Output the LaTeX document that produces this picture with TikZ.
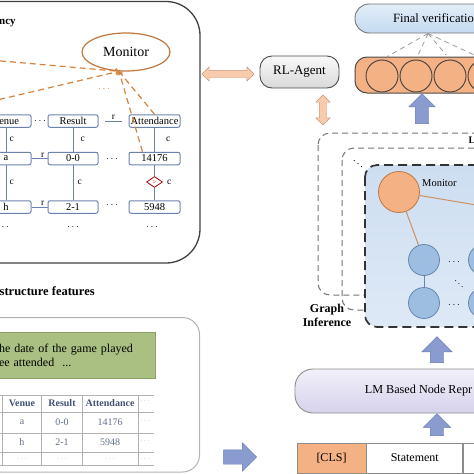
\documentclass[tikz,border=0pt]{standalone}
\usepackage{fontspec}
\setmainfont{Liberation Serif}
\usetikzlibrary{shapes.geometric,shapes.arrows,positioning}
\definecolor{dashorange}{RGB}{214,130,60}
\definecolor{monedge}{RGB}{192,118,60}
\definecolor{gridblue}{RGB}{107,130,172}
\definecolor{peach}{RGB}{244,177,131}
\definecolor{peachlight}{RGB}{248,203,173}
\definecolor{peachedge}{RGB}{200,150,120}
\definecolor{arrowblue}{RGB}{138,155,207}
\definecolor{arrowedge}{RGB}{100,118,175}
\definecolor{skyfill}{RGB}{226,238,249}
\definecolor{skydark}{RGB}{196,218,240}
\definecolor{graphtop}{RGB}{205,222,241}
\definecolor{graphbot}{RGB}{222,233,246}
\definecolor{nodeblue}{RGB}{157,190,224}
\definecolor{nodeedge}{RGB}{100,135,175}
\definecolor{lavtop}{RGB}{242,240,250}
\definecolor{lavbot}{RGB}{214,210,236}
\definecolor{olive}{RGB}{170,192,130}
\definecolor{oliveedge}{RGB}{140,160,100}
\definecolor{headtext}{RGB}{64,80,112}
\definecolor{celltext}{RGB}{95,110,140}

\begin{document}
\begin{tikzpicture}[x=1pt,y=-1pt,
    tbox/.style={draw=gridblue,line width=1pt,rounded corners=2pt,minimum width=50pt,minimum height=12.5pt,inner sep=0pt,font=\fontsize{10.5}{12}\selectfont},
    gline/.style={draw=gridblue,line width=1pt},
    lab/.style={inner sep=1pt,font=\fontsize{9.5}{11}\selectfont},
    monarrow/.style={draw=dashorange,line width=1.2pt,dash pattern=on 6pt off 4pt,->},
    bigtitle/.style={inner sep=0pt,font=\bfseries\fontsize{12.5}{14}\selectfont},
    dblarrow/.style={double arrow,draw=peachedge,fill=peachlight,inner xsep=0pt,inner ysep=3.5pt,double arrow head extend=3.5pt},
    uparrow/.style={single arrow,draw=arrowedge,fill=arrowblue,inner xsep=0pt,inner ysep=6.5pt,rotate=90},
    ocirc/.style={circle,draw=black!75,fill=peach,line width=0.9pt,minimum size=32pt,inner sep=0pt},
    fan/.style={draw=black!40,line width=0.8pt,dash pattern=on 5pt off 4pt,shorten >=6pt},
    layerbox/.style={draw=black!55,line width=1pt,dash pattern=on 6pt off 4pt,rounded corners=12pt},
    gcirc/.style={circle,draw=nodeedge,fill=nodeblue,line width=0.8pt,minimum size=31pt,inner sep=0pt},
    cell/.style={draw=black!45,line width=0.8pt,minimum height=30pt,inner sep=0pt,font=\fontsize{12}{14}\selectfont},
    tline/.style={draw=black!30,line width=1pt},
    thead/.style={inner sep=0pt,text=headtext,font=\bfseries\fontsize{10}{12}\selectfont},
    tcell/.style={inner sep=0pt,text=celltext,font=\fontsize{10}{12}\selectfont},
    tdots/.style={inner sep=0pt,text=black!40,font=\fontsize{7}{8}\selectfont}]
  \useasboundingbox (0,0) rectangle (474,474);
  \clip (0,0) rectangle (474,474);

  % dependency panel
  \draw[line width=1.3pt,draw=black!75,rounded corners=34pt] (-40,1.5) rectangle (200,263);
  \node[bigtitle,anchor=west,font=\bfseries\fontsize{11}{13}\selectfont] (deptitle) at (-1,23) {ncy};
  \node[draw=monedge,ellipse,line width=1.2pt,minimum width=88pt,minimum height=38pt,font=\fontsize{14}{16}\selectfont] (mon) at (126,52) {Monitor};

  \node[tbox] (venue) at (6,121) {Venue};
  \node[tbox] (res) at (73,121) {Result};
  \node[tbox,minimum width=51pt] (att) at (154.5,121) {Attendance};
  \node[tbox,node distance=37.5pt] (a) [below of=venue] {a};
  \node[tbox,node distance=37.5pt] (zz) [below of=res] {0-0};
  \node[tbox,minimum width=51pt,node distance=37.5pt] (n14176) [below of=att] {14176};
  \node[tbox,node distance=48.5pt] (h) [below of=a] {h};
  \node[tbox,node distance=48.5pt] (to) [below of=zz] {2-1};
  \node[tbox,minimum width=51pt,node distance=48.5pt] (n5948) [below of=n14176] {5948};
  \node[diamond,draw=red!65!black,line width=0.8pt,minimum width=16pt,minimum height=11pt,inner sep=0pt,
    text=red!80!black,font=\fontsize{7}{8}\selectfont,node distance=23.5pt,
    label={[lab,label distance=3pt]right:c}] (gt) [below of=n14176] {>};

  \coordinate (rla) at (105,121);
  \coordinate (rlb) at (122,121);
  \draw[gline] (venue) -- node[lab,right=2pt]{c} (a);
  \draw[gline] (a) -- node[lab,right=2pt]{c} (h);
  \draw[gline] (res) -- node[lab,right=6pt]{c} (zz);
  \draw[gline] (zz) -- node[lab,right=3pt]{c} (to);
  \draw[gline] (att) -- node[lab,right=10pt]{c} (n14176);
  \draw[gline] (n14176) -- (gt);
  \draw[gline] (gt) -- (n5948);
  \draw[gline] (a) -- node[lab,above,pos=0.7]{r} (zz);
  \draw[gline] (h) -- node[lab,above,pos=0.7]{r} (to);
  \draw[gline] (rla) -- node[lab,above]{r} (rlb);

  \node (dv) at (40,121) {$\cdots$};
  \node (d00) at (112,159) {$\cdots$};
  \node (d21) at (112,205) {$\cdots$};
  \node (dr1) at (3,227) {$\cdots$};
  \node (dr2) at (73,227) {$\cdots$};
  \node (dr3) at (152,227) {$\cdots$};
  \node[text=dashorange] (dmon) at (104,89) {$\cdots$};

  \coordinate (srcA) at (-30,58.2);
  \coordinate (srcB) at (-30,106.4);
  \draw[monarrow] (srcA) -- (mon.250);
  \draw[monarrow] (srcB) -- (mon.250);
  \draw[monarrow] (att.north) -- (mon.250);
  \draw[monarrow] ([xshift=-12pt]n14176.north) -- (mon.250);

  % agent and verification
  \node[dblarrow,minimum height=52pt] (ha) at (228,74) {};
  \node[draw=black!70,line width=0.9pt,rounded corners=12pt,top color=gray!5,bottom color=gray!30,
    minimum width=79pt,minimum height=32pt,font=\fontsize{13}{15}\selectfont] (rl) at (299.5,72) {RL-Agent};
  \node[dblarrow,minimum height=30pt,rotate=90] (va) at (323,110) {};

  \node[draw=black!55,line width=0.9pt,rounded corners=14pt,top color=skyfill,bottom color=skydark,
    minimum width=157pt,minimum height=29pt,font=\fontsize{12.6}{15}\selectfont] (fv) at (433.5,18.5) {Final verificatio};
  \node[draw=black!70,line width=1pt,fill=peach,rounded corners=12pt,minimum width=200pt,minimum height=36pt] (bar) at (455,75) {};
  \foreach \i/\x in {1/382,2/416,3/450,4/484}
    \node[ocirc] (o\i) at (\x,76) {};
  \coordinate (fvb) at (428,33.5);
  \foreach \i in {1,...,4}
    \draw[fan] (fvb) -- (o\i.north);
  \node[uparrow,minimum height=30pt,single arrow head extend=6.5pt] (up1) at (422,112) {};

  % graph inference
  \draw[layerbox] (318,133) rectangle (560,295);
  \node[inner sep=0pt,font=\bfseries\fontsize{10}{12}\selectfont] (lyr) at (472,140) {L};
  \draw[layerbox] (342,148) rectangle (560,310);
  \node (ldots) at (358,161) {$\ddots$};
  \draw[draw=black!80,line width=1.7pt,dash pattern=on 9pt off 5pt,rounded corners=12pt,top color=graphtop,bottom color=graphbot] (365,165) rectangle (560,327);
  \node[bigtitle,align=center,font=\bfseries\fontsize{12}{14}\selectfont] (gi) at (327,315) {Graph\\Inference};

  \node[circle,draw=monedge,fill=peach,line width=0.8pt,minimum size=41pt,inner sep=0pt] (gm) at (399,192) {};
  \node[inner sep=0pt,anchor=west,font=\fontsize{10.5}{12}\selectfont] (gmlab) at (422,183) {Monitor};
  \node[gcirc] (g1) at (424,260) {};
  \node[gcirc,node distance=43pt] (g2) [below of=g1] {};
  \node[gcirc,node distance=60pt] (g3) [right of=g1] {};
  \node[gcirc,node distance=60pt] (g4) [right of=g2] {};
  \node (gd1) at (454,262) {$\cdots$};
  \node (gd2) at (454,305) {$\cdots$};
  \node[font=\small] (gd3) at (459,281) {$\ddots$};
  \coordinate (gr) at (530,214);
  \draw[draw=monedge!80,line width=1pt] (gm) -- (g1);
  \draw[draw=monedge!80,line width=1pt] (gm) -- (gr);
  \draw[draw=nodeedge,line width=0.8pt] (g1) -- (g2);

  % node representation
  \node[uparrow,minimum height=26pt,single arrow head extend=8.5pt] (up2) at (437,353) {};
  \node[draw=black!45,line width=0.9pt,rounded corners=18pt,top color=lavtop,bottom color=lavbot,
    minimum width=247pt,minimum height=44pt,font=\fontsize{12.2}{14}\selectfont] (lm) at (418.5,391) {LM Based Node Repr};
  \node[uparrow,minimum height=22pt,single arrow head extend=7pt] (up3) at (437,428) {};
  \node[cell,fill=peach,minimum width=69pt] (cls) at (331.5,458) {[CLS]};
  \node[cell,minimum width=96pt,right=0pt of cls] (stmt) {Statement};
  \node[cell,minimum width=60pt,right=0pt of stmt] (cellc) {};

  % structure features panel
  \draw[draw=black!30,line width=1pt,rounded corners=17pt] (-20,317.5) rectangle (199.5,472);
  \node[bigtitle,anchor=west] (sttitle) at (-0.5,291) {structure features};
  \node[fill=olive,draw=oliveedge,line width=0.8pt,text width=147pt,inner xsep=9pt,inner ysep=0pt,minimum height=46pt,
    align=left,font=\fontsize{12}{14}\selectfont] (q) at (72.5,355) {he date of the game played\\ee attended \ ...};
  \node[single arrow,draw=arrowedge,fill=arrowblue,inner xsep=0pt,inner ysep=7pt,minimum height=33pt,single arrow head extend=7pt] (rt) at (236.5,457) {};

  \foreach \y in {395,412,433,452,465}
    \draw[tline] (-5,\y) -- (154,\y);
  \foreach \x in {2,41,82,138}
    \draw[tline] (\x,395) -- (\x,465);
  \foreach \x/\t [count=\i] in {22/Venue,62/Result,110/Attendance}
    \node[thead] (th-\i) at (\x,403.5) {\t};
  \foreach \x/\t [count=\i] in {22/a,62/0-0,110/14176}
    \node[tcell] (ta-\i) at (\x,422.5) {\t};
  \foreach \x/\t [count=\i] in {22/h,62/2-1,110/5948}
    \node[tcell] (tb-\i) at (\x,442.5) {\t};
  \foreach \y [count=\i] in {401,421,441}
    \node[tdots] (te-\i) at (145,\y) {$\cdots$};
  \foreach \x [count=\i] in {22,62,110,145}
    \node[tdots] (tf-\i) at (\x,458.5) {$\cdots$};
\end{tikzpicture}
\end{document}
